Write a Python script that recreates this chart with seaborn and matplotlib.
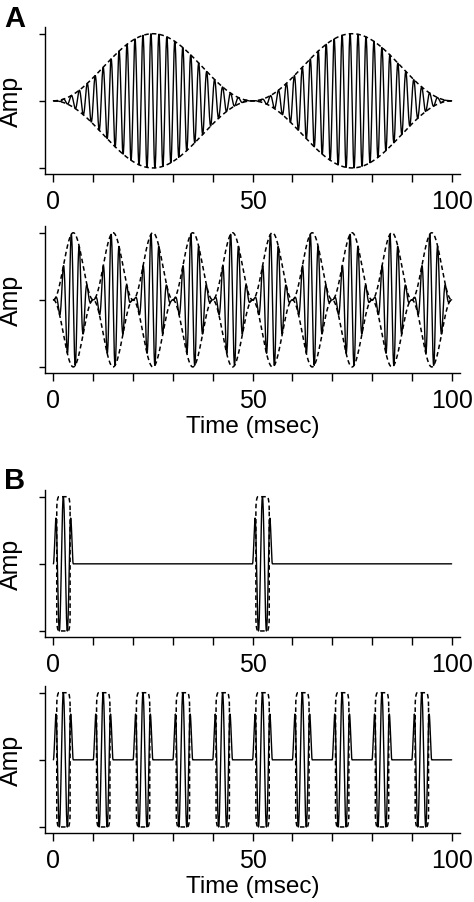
import numpy as np
import pandas as pd
import matplotlib
matplotlib.use("Agg")
import matplotlib.pyplot as plt
import seaborn as sns

# stimulus parameters
time_range_ms = [0, 100]
sample_rate_hz = 20000
carrier_hz = 500
sam_mod_hz = [20, 100]                                   # panel A: top, bottom
burst_onsets_slow = [0, 50]                              # panel B top
burst_onsets_fast = [0, 10, 20, 30, 40, 50, 60, 70, 80, 90]  # panel B bottom
burst_dur_ms = 5.0
burst_ramp_ms = 0.85
box_edges_ms = [0.85, 4.2]     # dashed box left / right edge after onset
box_corner = [0.5, 0.2]        # corner radius (ms, amp)

x_ticks = [0, 10, 20, 30, 40, 50, 60, 70, 80, 90, 100]
x_ticklabels = ["0", "", "", "", "", "50", "", "", "", "", "100"]
y_ticks = [-1, 0, 1]
x_label = "Time (msec)"
y_label = "Amp"
panel_letters = ["A", "B"]

t = np.arange(time_range_ms[0], time_range_ms[1] + 1000 / sample_rate_hz, 1000 / sample_rate_hz)


def sam_wave(fm):
    env = (1 - np.cos(2 * np.pi * fm * t / 1000)) / 2
    wave = env * np.sin(2 * np.pi * carrier_hz * t / 1000)
    return pd.DataFrame({"t": t, "y": wave, "env": env})


def burst_wave(onsets):
    y = np.zeros_like(t)
    for on in onsets:
        tt = t - on
        m = (tt >= 0) & (tt <= burst_dur_ms)
        env = np.clip(np.minimum(tt[m], burst_dur_ms - tt[m]) / burst_ramp_ms, 0, 1)
        y[m] = env * np.cos(2 * np.pi * carrier_hz * (tt[m] - burst_dur_ms / 2) / 1000)
    return pd.DataFrame({"t": t, "y": y})


def burst_boxes(onsets):
    rx, ry = box_corner
    rows = []
    for i, on in enumerate(onsets):
        x0, x1 = on + box_edges_ms[0], on + box_edges_ms[1]
        centers = [(x1 - rx, 1 - ry), (x0 + rx, 1 - ry), (x0 + rx, -1 + ry), (x1 - rx, -1 + ry)]
        pts = []
        for k, (cx, cy) in enumerate(centers):
            a = np.linspace(k * np.pi / 2, (k + 1) * np.pi / 2, 8)
            pts += list(zip(cx + rx * np.cos(a), cy + ry * np.sin(a)))
        pts.append(pts[0])
        for j, (px, py) in enumerate(pts):
            rows.append({"box": i, "order": j, "t": px, "y": py})
    return pd.DataFrame(rows)


sns.set_style("ticks")
plt.rcParams["font.family"] = ["Liberation Sans", "DejaVu Sans"]
plt.rcParams.update({"text.color": "black", "axes.labelcolor": "black",
                     "xtick.color": "black", "ytick.color": "black",
                     "axes.edgecolor": "black"})

fig = plt.figure(figsize=(4.74, 9.03), dpi=100)
left, width, height = 45 / 474, 415 / 474, 147 / 903
bottoms = [1 - 175 / 903, 1 - 374 / 903, 1 - 638 / 903, 1 - 834 / 903]
axes = [fig.add_axes([left, b, width, height]) for b in bottoms]

wave_kw = dict(color="black", linewidth=1.0, estimator=None, sort=False)
dash_kw = dict(color="black", linewidth=1.1, linestyle=(0, (3, 2)), estimator=None, sort=False)

# panel A: sinusoidally amplitude-modulated tones
for ax, fm in zip(axes[:2], sam_mod_hz):
    df = sam_wave(fm)
    sns.lineplot(data=df, x="t", y="y", ax=ax, **wave_kw)
    sns.lineplot(x=df["t"], y=df["env"], ax=ax, **dash_kw)
    sns.lineplot(x=df["t"], y=-df["env"], ax=ax, **dash_kw)

# panel B: tone bursts
for ax, onsets in zip(axes[2:], [burst_onsets_slow, burst_onsets_fast]):
    df = burst_wave(onsets)
    sns.lineplot(data=df, x="t", y="y", ax=ax, **wave_kw)
    boxes = burst_boxes(onsets)
    sns.lineplot(data=boxes, x="t", y="y", units="box", ax=ax, **dash_kw)

for i, ax in enumerate(axes):
    ax.set_xlim(-2.1, 102.1)
    ax.set_ylim(-1.09, 1.1)
    ax.set_xticks(x_ticks)
    ax.set_xticklabels(x_ticklabels, fontsize=18)
    ax.set_yticks(y_ticks)
    ax.set_yticklabels([])
    ax.tick_params(axis="x", length=6, width=1, pad=5)
    ax.tick_params(axis="y", length=4, width=1)
    for s in ["left", "bottom"]:
        ax.spines[s].set_linewidth(1)
    sns.despine(ax=ax)
    ax.set_ylabel(y_label, fontsize=18)
    ax.yaxis.set_label_coords(-0.052, 0.5)
    if i in (1, 3):
        ax.set_xlabel(x_label, fontsize=17.5, labelpad=2)
    else:
        ax.set_xlabel("")

fig.text(0.008, 1 - 5 / 903, panel_letters[0], fontsize=21, fontweight="bold", va="top", ha="left")
fig.text(0.008, 1 - 467 / 903, panel_letters[1], fontsize=21, fontweight="bold", va="top", ha="left")

fig.savefig("out.png", dpi=100)
